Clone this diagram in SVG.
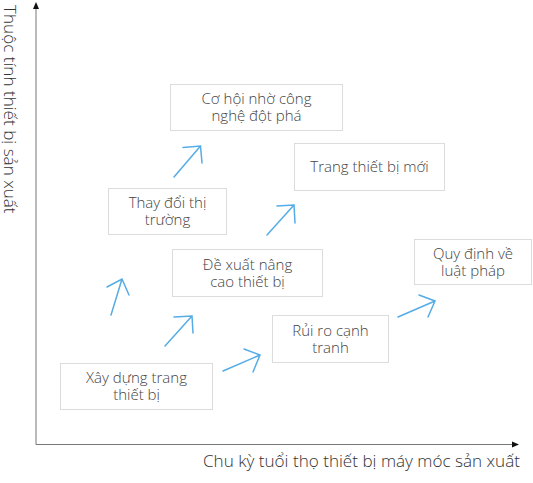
<svg xmlns="http://www.w3.org/2000/svg" width="533" height="483" viewBox="0 0 533 483">
<style>
.box{fill:#fff;stroke:#dcdcdc;stroke-width:1}
.t{font-family:"Open Sans","Noto Sans",sans-serif;font-weight:300;font-size:15px;fill:#444;text-anchor:middle}
.ax{stroke:#777;stroke-width:1;fill:none}
.ar{stroke:#55ace6;stroke-width:1.5;fill:none;stroke-linecap:round}
.lab{font-family:"Open Sans","Noto Sans",sans-serif;font-weight:300;font-size:17.1px;fill:#333}
</style>
<rect width="533" height="483" fill="#fff"/>
<g id="axes">
<line class="ax" x1="36" y1="8" x2="36" y2="444.5"/>
<line class="ax" x1="36" y1="444.5" x2="513" y2="444.5"/>
<polygon points="36,2 33,9 39,9" fill="#111"/>
<polygon points="519,444.5 512,441.5 512,447.5" fill="#111"/>
<text class="lab" transform="translate(4,5) rotate(90)">Thuộc tính thiết bị sản xuất</text>
<text class="lab" x="203" y="467">Chu kỳ tuổi thọ thiết bị máy móc sản xuất</text>
</g>
<g id="n1"><rect class="box" x="170.5" y="84.5" width="172" height="46"/><text class="t" x="256.5" y="104">Cơ hội nhờ công</text><text class="t" x="256.5" y="121">nghệ đột phá</text></g>
<g id="n2"><rect class="box" x="294.5" y="143.5" width="150" height="47"/><text class="t" x="369.5" y="172">Trang thiết bị mới</text></g>
<g id="n3"><rect class="box" x="108.5" y="188.5" width="118" height="46"/><text class="t" x="167.5" y="208">Thay đổi thị</text><text class="t" x="167.5" y="225">trường</text></g>
<g id="n4"><rect class="box" x="172.5" y="249.5" width="150" height="47"/><text class="t" x="247.5" y="270">Đề xuất nâng</text><text class="t" x="247.5" y="287">cao thiết bị</text></g>
<g id="n5"><rect class="box" x="60.5" y="363.5" width="152" height="46"/><text class="t" x="136.5" y="383">Xây dựng trang</text><text class="t" x="136.5" y="400">thiết bị</text></g>
<g id="n6"><rect class="box" x="272.5" y="315.5" width="116" height="47"/><text class="t" x="330.5" y="335.5">Rủi ro cạnh</text><text class="t" x="330.5" y="352.5">tranh</text></g>
<g id="n7"><rect class="box" x="414.5" y="239.5" width="117" height="45"/><text class="t" x="473" y="258.5">Quy định về</text><text class="t" x="473" y="275.5">luật pháp</text></g>
<g id="connectors">
<path class="ar" d="M174,177 L200.5,146 M183,147.5 L200.5,146 L202,163"/>
<path class="ar" d="M267,235 L294,205 M277,206 L294,205 L295,223"/>
<path class="ar" d="M111,315 L122,279 M107,287 L122,279 L129,295"/>
<path class="ar" d="M165,346 L192,316 M174,317 L192,316 L193,333"/>
<path class="ar" d="M223,371 L260,355 M244,349 L260,355 L253,372"/>
<path class="ar" d="M398,317 L435,301 M419,295 L435,301 L428,317"/>
</g>
</svg>
